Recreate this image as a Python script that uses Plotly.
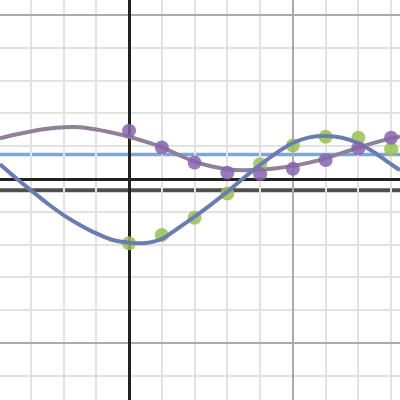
import plotly.graph_objects as go

# table points
pt_x = [0, 1, 2, 3, 4, 5, 6, 7, 8]
green_y = [-1.96, -1.71, -1.18, -0.44, 0.45, 1.02, 1.29, 1.26, 0.91]
purple_y = [1.47, 0.96, 0.50, 0.19, 0.15, 0.31, 0.58, 0.94, 1.26]

# fitted curves, sampled by eye
curve_x = [-3.94, -3.5, -3.0, -2.5, -2.0, -1.5, -1.0, -0.5, 0.0, 0.5, 1.0, 1.5, 2.0,
           2.5, 3.0, 3.5, 4.0, 4.5, 5.0, 5.5, 6.0, 6.5, 7.0, 7.5, 8.0, 8.27]
blue_curve_y = [0.45, 0.07, -0.34, -0.74, -1.10, -1.40, -1.66, -1.86, -1.94, -1.95, -1.83,
                -1.50, -1.15, -0.78, -0.39, 0.03, 0.43, 0.80, 1.10, 1.27, 1.31, 1.26,
                1.09, 0.80, 0.45, 0.27]
gray_curve_y = [1.24, 1.35, 1.45, 1.53, 1.58, 1.58, 1.51, 1.41, 1.29, 1.14, 0.97, 0.74,
                0.53, 0.39, 0.30, 0.27, 0.29, 0.33, 0.40, 0.50, 0.63, 0.79, 0.96, 1.11,
                1.24, 1.30]

# horizontal reference lines
mean_level = 0.75
offset_level = -0.34

x_range = [-3.94, 8.27]
y_range = [-6.74, 5.46]

fig = go.Figure()

fig.add_hline(y=mean_level, line=dict(color="#7fa6d6", width=3.5), layer="below")
fig.add_hline(y=offset_level, line=dict(color="#4f4f4f", width=4), layer="below")

fig.add_trace(go.Scatter(x=curve_x, y=gray_curve_y, mode="lines",
                         line=dict(color="#8e8198", width=4, shape="spline", smoothing=0.7)))
fig.add_trace(go.Scatter(x=pt_x, y=green_y, mode="markers",
                         marker=dict(color="#98bf55", size=14, opacity=0.85)))
fig.add_trace(go.Scatter(x=curve_x, y=blue_curve_y, mode="lines",
                         line=dict(color="#6b7cae", width=4, shape="spline", smoothing=0.7)))
fig.add_trace(go.Scatter(x=pt_x, y=purple_y, mode="markers",
                         marker=dict(color="#8764ad", size=14, opacity=0.85)))

axis_style = dict(
    dtick=5, showgrid=True, gridcolor="#ababab", gridwidth=1.5,
    minor=dict(dtick=1, showgrid=True, gridcolor="#e2e2e2", gridwidth=1.5),
    zeroline=True, zerolinecolor="#222222", zerolinewidth=2.5,
    showticklabels=False, ticks="", showline=False, fixedrange=True,
)
fig.update_xaxes(range=x_range, **axis_style)
fig.update_yaxes(range=y_range, **axis_style)

fig.update_layout(width=400, height=400, margin=dict(l=0, r=0, t=0, b=0),
                  plot_bgcolor="white", paper_bgcolor="white", showlegend=False)

# the page body has a default 8px margin; drop it so the plot sits at 0,0
fig.write_html("out.html", config={"displayModeBar": False},
               post_script="document.body.style.margin='0';")
